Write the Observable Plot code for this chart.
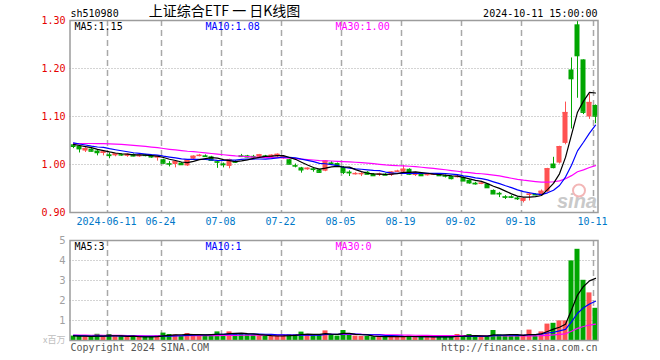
<!DOCTYPE html>
<html><head><meta charset="utf-8">
<script src="https://cdn.jsdelivr.net/npm/d3@7"></script>
<script src="https://cdn.jsdelivr.net/npm/@observablehq/plot@0.6"></script>
<style>
html,body{margin:0;padding:0;background:#fff;}
#chart{width:660px;height:360px;overflow:hidden;}
#chart svg{display:block;}
</style></head><body><div id="chart"></div>
<script>
// ---------- data ----------
const dates = ["2024-05-31","2024-06-03","2024-06-04","2024-06-05","2024-06-06","2024-06-07","2024-06-11","2024-06-12","2024-06-13","2024-06-14","2024-06-17","2024-06-18","2024-06-19","2024-06-20","2024-06-21","2024-06-24","2024-06-25","2024-06-26","2024-06-27","2024-06-28","2024-07-01","2024-07-02","2024-07-03","2024-07-04","2024-07-05","2024-07-08","2024-07-09","2024-07-10","2024-07-11","2024-07-12","2024-07-15","2024-07-16","2024-07-17","2024-07-18","2024-07-19","2024-07-22","2024-07-23","2024-07-24","2024-07-25","2024-07-26","2024-07-29","2024-07-30","2024-07-31","2024-08-01","2024-08-02","2024-08-05","2024-08-06","2024-08-07","2024-08-08","2024-08-09","2024-08-12","2024-08-13","2024-08-14","2024-08-15","2024-08-16","2024-08-19","2024-08-20","2024-08-21","2024-08-22","2024-08-23","2024-08-26","2024-08-27","2024-08-28","2024-08-29","2024-08-30","2024-09-02","2024-09-03","2024-09-04","2024-09-05","2024-09-06","2024-09-09","2024-09-10","2024-09-11","2024-09-12","2024-09-13","2024-09-18","2024-09-19","2024-09-20","2024-09-23","2024-09-24","2024-09-25","2024-09-26","2024-09-27","2024-09-30","2024-10-08","2024-10-09","2024-10-10","2024-10-11"];

const open  = [1.041,1.038,1.028,1.032,1.028,1.023,1.020,1.018,1.021,1.017,1.021,1.016,1.020,1.019,1.014,1.010,1.002,1.000,1.003,0.997,1.011,1.018,1.018,1.016,1.006,1.001,0.996,1.006,1.018,1.018,1.017,1.015,1.018,1.015,1.016,1.012,1.010,0.998,0.993,0.989,0.991,0.989,0.986,1.003,1.002,0.994,0.984,0.980,0.980,0.984,0.980,0.979,0.980,0.977,0.985,0.984,0.990,0.977,0.980,0.978,0.978,0.980,0.977,0.975,0.973,0.973,0.967,0.961,0.960,0.959,0.946,0.940,0.933,0.933,0.930,0.923,0.937,0.938,0.937,0.943,1.001,1.003,1.044,1.197,1.291,1.218,1.099,1.123];
const close = [1.038,1.033,1.033,1.028,1.025,1.026,1.019,1.022,1.020,1.021,1.018,1.019,1.019,1.016,1.016,1.003,1.001,1.006,1.000,1.009,1.017,1.019,1.017,1.009,1.005,1.000,1.010,1.005,1.017,1.016,1.016,1.020,1.016,1.019,1.021,1.016,1.001,0.997,0.989,0.992,0.990,0.984,1.007,1.002,0.997,0.984,0.983,0.981,0.981,0.980,0.977,0.980,0.978,0.984,0.986,0.990,0.980,0.983,0.977,0.979,0.980,0.977,0.976,0.971,0.975,0.966,0.962,0.960,0.961,0.952,0.939,0.939,0.932,0.932,0.929,0.929,0.938,0.937,0.944,0.991,0.994,1.037,1.108,1.179,1.227,1.109,1.129,1.101];
const high  = [1.043,1.039,1.035,1.033,1.029,1.027,1.024,1.023,1.022,1.022,1.022,1.020,1.021,1.020,1.017,1.011,1.006,1.007,1.004,1.010,1.018,1.021,1.020,1.017,1.008,1.003,1.011,1.008,1.021,1.019,1.019,1.021,1.019,1.020,1.022,1.017,1.011,1.001,0.994,0.993,0.993,0.990,1.008,1.006,1.003,0.996,0.987,0.983,0.983,0.985,0.981,0.982,0.981,0.985,0.988,0.998,0.991,0.984,0.981,0.981,0.981,0.981,0.978,0.976,0.977,0.974,0.968,0.963,0.962,0.960,0.947,0.942,0.935,0.935,0.932,0.930,0.940,0.939,0.947,0.992,1.015,1.038,1.130,1.222,1.298,1.218,1.146,1.124];
const low   = [1.033,1.024,1.025,1.026,1.018,1.018,1.012,1.016,1.017,1.015,1.016,1.015,1.016,1.013,1.007,1.001,0.995,0.993,0.999,0.996,1.010,1.016,1.015,1.008,0.992,0.993,0.991,1.003,1.015,1.014,1.013,1.014,1.014,1.013,1.014,1.011,1.000,0.993,0.982,0.988,0.984,0.982,0.985,0.999,0.995,0.979,0.975,0.978,0.975,0.979,0.976,0.975,0.977,0.975,0.983,0.983,0.977,0.975,0.976,0.976,0.977,0.976,0.972,0.968,0.972,0.965,0.959,0.957,0.958,0.951,0.938,0.931,0.927,0.929,0.925,0.920,0.924,0.935,0.936,0.942,0.991,1.001,1.041,1.074,1.138,1.104,1.094,1.085];
// volume, millions (x百万)
const volume = [0.22,0.20,0.18,0.20,0.31,0.18,0.30,0.20,0.19,0.18,0.20,0.17,0.18,0.20,0.24,0.37,0.30,0.28,0.25,0.35,0.30,0.27,0.26,0.30,0.43,0.30,0.43,0.32,0.35,0.30,0.25,0.24,0.20,0.22,0.21,0.27,0.30,0.30,0.42,0.28,0.25,0.27,0.48,0.30,0.22,0.50,0.30,0.22,0.20,0.20,0.18,0.20,0.18,0.21,0.19,0.20,0.22,0.18,0.18,0.17,0.18,0.20,0.18,0.20,0.30,0.20,0.30,0.20,0.18,0.22,0.50,0.28,0.25,0.22,0.24,0.27,0.52,0.22,0.43,0.82,0.86,0.98,0.98,3.98,4.56,3.01,2.38,1.61];
// sessions before the window (needed for the moving averages at the left edge)
const priorClose  = [1.030,1.032,1.028,1.026,1.030,1.034,1.038,1.040,1.046,1.050,1.052,1.055,1.054,1.056,1.054,1.050,1.048,1.044,1.046,1.042,1.058,1.054,1.050,1.044,1.036,1.045,1.044,1.040,1.043];
const priorVolume = [0.30,0.28,0.26,0.25,0.27,0.30,0.32,0.35,0.33,0.30,0.28,0.29,0.27,0.26,0.25,0.24,0.26,0.25,0.27,0.28,0.33,0.30,0.27,0.25,0.24,0.23,0.22,0.24,0.23];

const tickDates  = ["2024-06-11","2024-06-24","2024-07-08","2024-07-22","2024-08-05","2024-08-19","2024-09-02","2024-09-18","2024-10-11"];
const priceTicks = [0.90,1.00,1.10,1.20,1.30];
const priceGrid  = [1.00,1.10,1.20];
const volTicks   = [1,2,3,4,5];
const volGrid    = [1,2,3,4];
const code = "sh510980";
const title = "上证综合ETF 一 日K线图";
const stamp = "2024-10-11 15:00:00";

// ---------- helpers ----------
function movingAverage(series, prior, n){
  const all = prior.concat(series);
  return series.map((_, i) => {
    const j = i + prior.length; let s = 0;
    for (let k = j - n + 1; k <= j; k++) s += all[k];
    return s / n;
  });
}
const ma5 = movingAverage(close, priorClose, 5);
const ma10 = movingAverage(close, priorClose, 10);
const ma30 = movingAverage(close, priorClose, 30);
const vma5 = movingAverage(volume, priorVolume, 5);
const vma10 = movingAverage(volume, priorVolume, 10);
const vma30 = movingAverage(volume, priorVolume, 30);

const RED = "#ff5252", GREEN = "#00a600";
const rows = dates.map((d, i) => ({
  date: d, open: open[i], high: high[i], low: low[i], close: close[i], volume: volume[i],
  ma5: ma5[i], ma10: ma10[i], ma30: ma30[i], vma5: vma5[i], vma10: vma10[i], vma30: vma30[i],
  color: close[i] >= open[i] ? RED : GREEN
}));
const last = rows[rows.length - 1];
const mono = "'DejaVu Sans Mono','Liberation Mono',monospace";
const xOpts = {type: "band", domain: dates, paddingInner: 0, paddingOuter: 0, axis: null};
const common = {width: 660, marginLeft: 69.5, marginRight: 62.5};
const FRAME = "#9c9c9c", GRID = "#a8a8a8";

// ---------- price panel ----------
const price = Plot.plot({
  ...common, height: 235, marginTop: 20, marginBottom: 23,
  style: {background: "#fff", fontFamily: mono, fontSize: "10px"},
  x: xOpts,
  y: {domain: [0.9, 1.3], axis: null},
  color: {type: "identity"},
  marks: [
    Plot.ruleY(priceGrid, {y: d => d, stroke: GRID, strokeDasharray: "1,2"}),
    Plot.ruleX(tickDates, {x: d => d, dx: -2, stroke: GRID, strokeWidth: 1.5, strokeDasharray: "6,4"}),
    Plot.ruleX(rows, {x: "date", y1: "low", y2: "high", stroke: "color", strokeWidth: 1}),
    Plot.barY(rows, {x: "date", y1: d => Math.min(d.open, d.close), y2: d => Math.max(d.open, d.close), fill: "color", insetLeft: 0.5, insetRight: 0.5}),
    Plot.tickY(rows, {x: "date", y: "close", stroke: "color", strokeWidth: 1.5, insetLeft: 0.5, insetRight: 0.5}),
    Plot.text(["sina"], {frameAnchor: "bottom-right", textAnchor: "end", lineAnchor: "bottom", dx: -1, dy: -5, fontSize: 20, fontWeight: "bold", fontStyle: "italic", fontFamily: "'Liberation Sans',Arial,sans-serif", fill: "#c9c9c9"}),
    Plot.dot([0], {frameAnchor: "bottom-right", dx: -19, dy: -22, r: 6, stroke: "#f3b6b6", strokeWidth: 2, fill: "none"}),
    Plot.line(rows, {x: "date", y: "ma30", stroke: "#ff00ff", strokeWidth: 1.2}),
    Plot.line(rows, {x: "date", y: "ma10", stroke: "#0000ff", strokeWidth: 1.2}),
    Plot.line(rows, {x: "date", y: "ma5", stroke: "#000", strokeWidth: 1.2}),
    Plot.frame({stroke: FRAME, strokeWidth: 1.5}),
    Plot.text(priceTicks, {y: d => d, frameAnchor: "left", textAnchor: "end", dx: -4.5, text: d => d.toFixed(2), fill: "#e60000", fontSize: 10, fontFamily: mono}),
    Plot.text(tickDates, {x: d => d, frameAnchor: "bottom", lineAnchor: "middle", dx: -3, dy: 9.5, text: (d, i) => i === 0 ? d : d.slice(5), fill: "#0078c8", fontSize: 10, fontFamily: mono}),
    Plot.text([code], {frameAnchor: "top-left", textAnchor: "start", lineAnchor: "middle", dx: 0.5, dy: -6.5, fontSize: 10, fontFamily: mono, fill: "#000"}),
    Plot.text([stamp], {frameAnchor: "top-right", textAnchor: "end", lineAnchor: "middle", dx: -0.5, dy: -7, fontSize: 10, fontFamily: mono, fill: "#000"}),
    Plot.text([title], {frameAnchor: "top-left", textAnchor: "middle", lineAnchor: "middle", dx: 154.5, dy: -8.5, fontSize: 14, fontFamily: "'Noto Sans CJK SC',sans-serif", fill: "#000"}),
    Plot.text(["MA5:" + last.ma5.toFixed(2)], {frameAnchor: "top-left", textAnchor: "start", lineAnchor: "middle", dx: 4.5, dy: 6, fontSize: 10, fontFamily: mono, fill: "#000"}),
    Plot.text(["MA10:" + last.ma10.toFixed(2)], {frameAnchor: "top-left", textAnchor: "start", lineAnchor: "middle", dx: 135.5, dy: 6, fontSize: 10, fontFamily: mono, fill: "#0000ff"}),
    Plot.text(["MA30:" + last.ma30.toFixed(2)], {frameAnchor: "top-left", textAnchor: "start", lineAnchor: "middle", dx: 265.5, dy: 6, fontSize: 10, fontFamily: mono, fill: "#ff00ff"})
  ]
});

// ---------- volume panel ----------
const vol = Plot.plot({
  ...common, height: 125, marginTop: 5, marginBottom: 20,
  style: {background: "#fff", fontFamily: mono, fontSize: "10px"},
  x: xOpts,
  y: {domain: [0, 5], axis: null},
  color: {type: "identity"},
  marks: [
    Plot.ruleY(volGrid, {y: d => d, stroke: GRID, strokeDasharray: "1,2"}),
    Plot.ruleX(tickDates, {x: d => d, dx: -2, stroke: GRID, strokeWidth: 1.5, strokeDasharray: "6,4"}),
    Plot.barY(rows, {x: "date", y: "volume", fill: "color", insetLeft: 0.5, insetRight: 0.5}),
    Plot.line(rows, {x: "date", y: "vma30", stroke: "#ff00ff", strokeWidth: 1.2}),
    Plot.line(rows, {x: "date", y: "vma10", stroke: "#0000ff", strokeWidth: 1.2}),
    Plot.line(rows, {x: "date", y: "vma5", stroke: "#000", strokeWidth: 1.2}),
    Plot.frame({stroke: FRAME, strokeWidth: 1.5}),
    Plot.text(volTicks, {y: d => d, frameAnchor: "left", textAnchor: "end", dx: -4.5, text: d => String(d), fill: "#a0a0a0", fontSize: 10, fontFamily: "'DejaVu Sans',sans-serif"}),
    Plot.text(["x百万"], {frameAnchor: "bottom-left", textAnchor: "end", lineAnchor: "middle", dx: -4.5, dy: 0, fill: "#bdbdbd", fontSize: 9, fontFamily: "'Noto Sans CJK SC',sans-serif"}),
    Plot.text(["MA5:" + Math.floor(last.vma5)], {frameAnchor: "top-left", textAnchor: "start", lineAnchor: "middle", dx: 4.5, dy: 6, fontSize: 10, fontFamily: mono, fill: "#000"}),
    Plot.text(["MA10:" + Math.floor(last.vma10)], {frameAnchor: "top-left", textAnchor: "start", lineAnchor: "middle", dx: 135.5, dy: 6, fontSize: 10, fontFamily: mono, fill: "#0000ff"}),
    Plot.text(["MA30:" + Math.floor(last.vma30)], {frameAnchor: "top-left", textAnchor: "start", lineAnchor: "middle", dx: 265.5, dy: 6, fontSize: 10, fontFamily: mono, fill: "#ff00ff"}),
    Plot.text(["Copyright 2024 SINA.COM"], {frameAnchor: "bottom-left", textAnchor: "start", lineAnchor: "middle", dx: 0.5, dy: 7, fontSize: 10, fontFamily: mono, fill: "#555"}),
    Plot.text(["http://finance.sina.com.cn"], {frameAnchor: "bottom-right", textAnchor: "end", lineAnchor: "middle", dx: -0.5, dy: 7, fontSize: 10, fontFamily: mono, fill: "#555"})
  ]
});

const chart = document.getElementById("chart");
chart.appendChild(price);
chart.appendChild(vol);
</script>
</body></html>
